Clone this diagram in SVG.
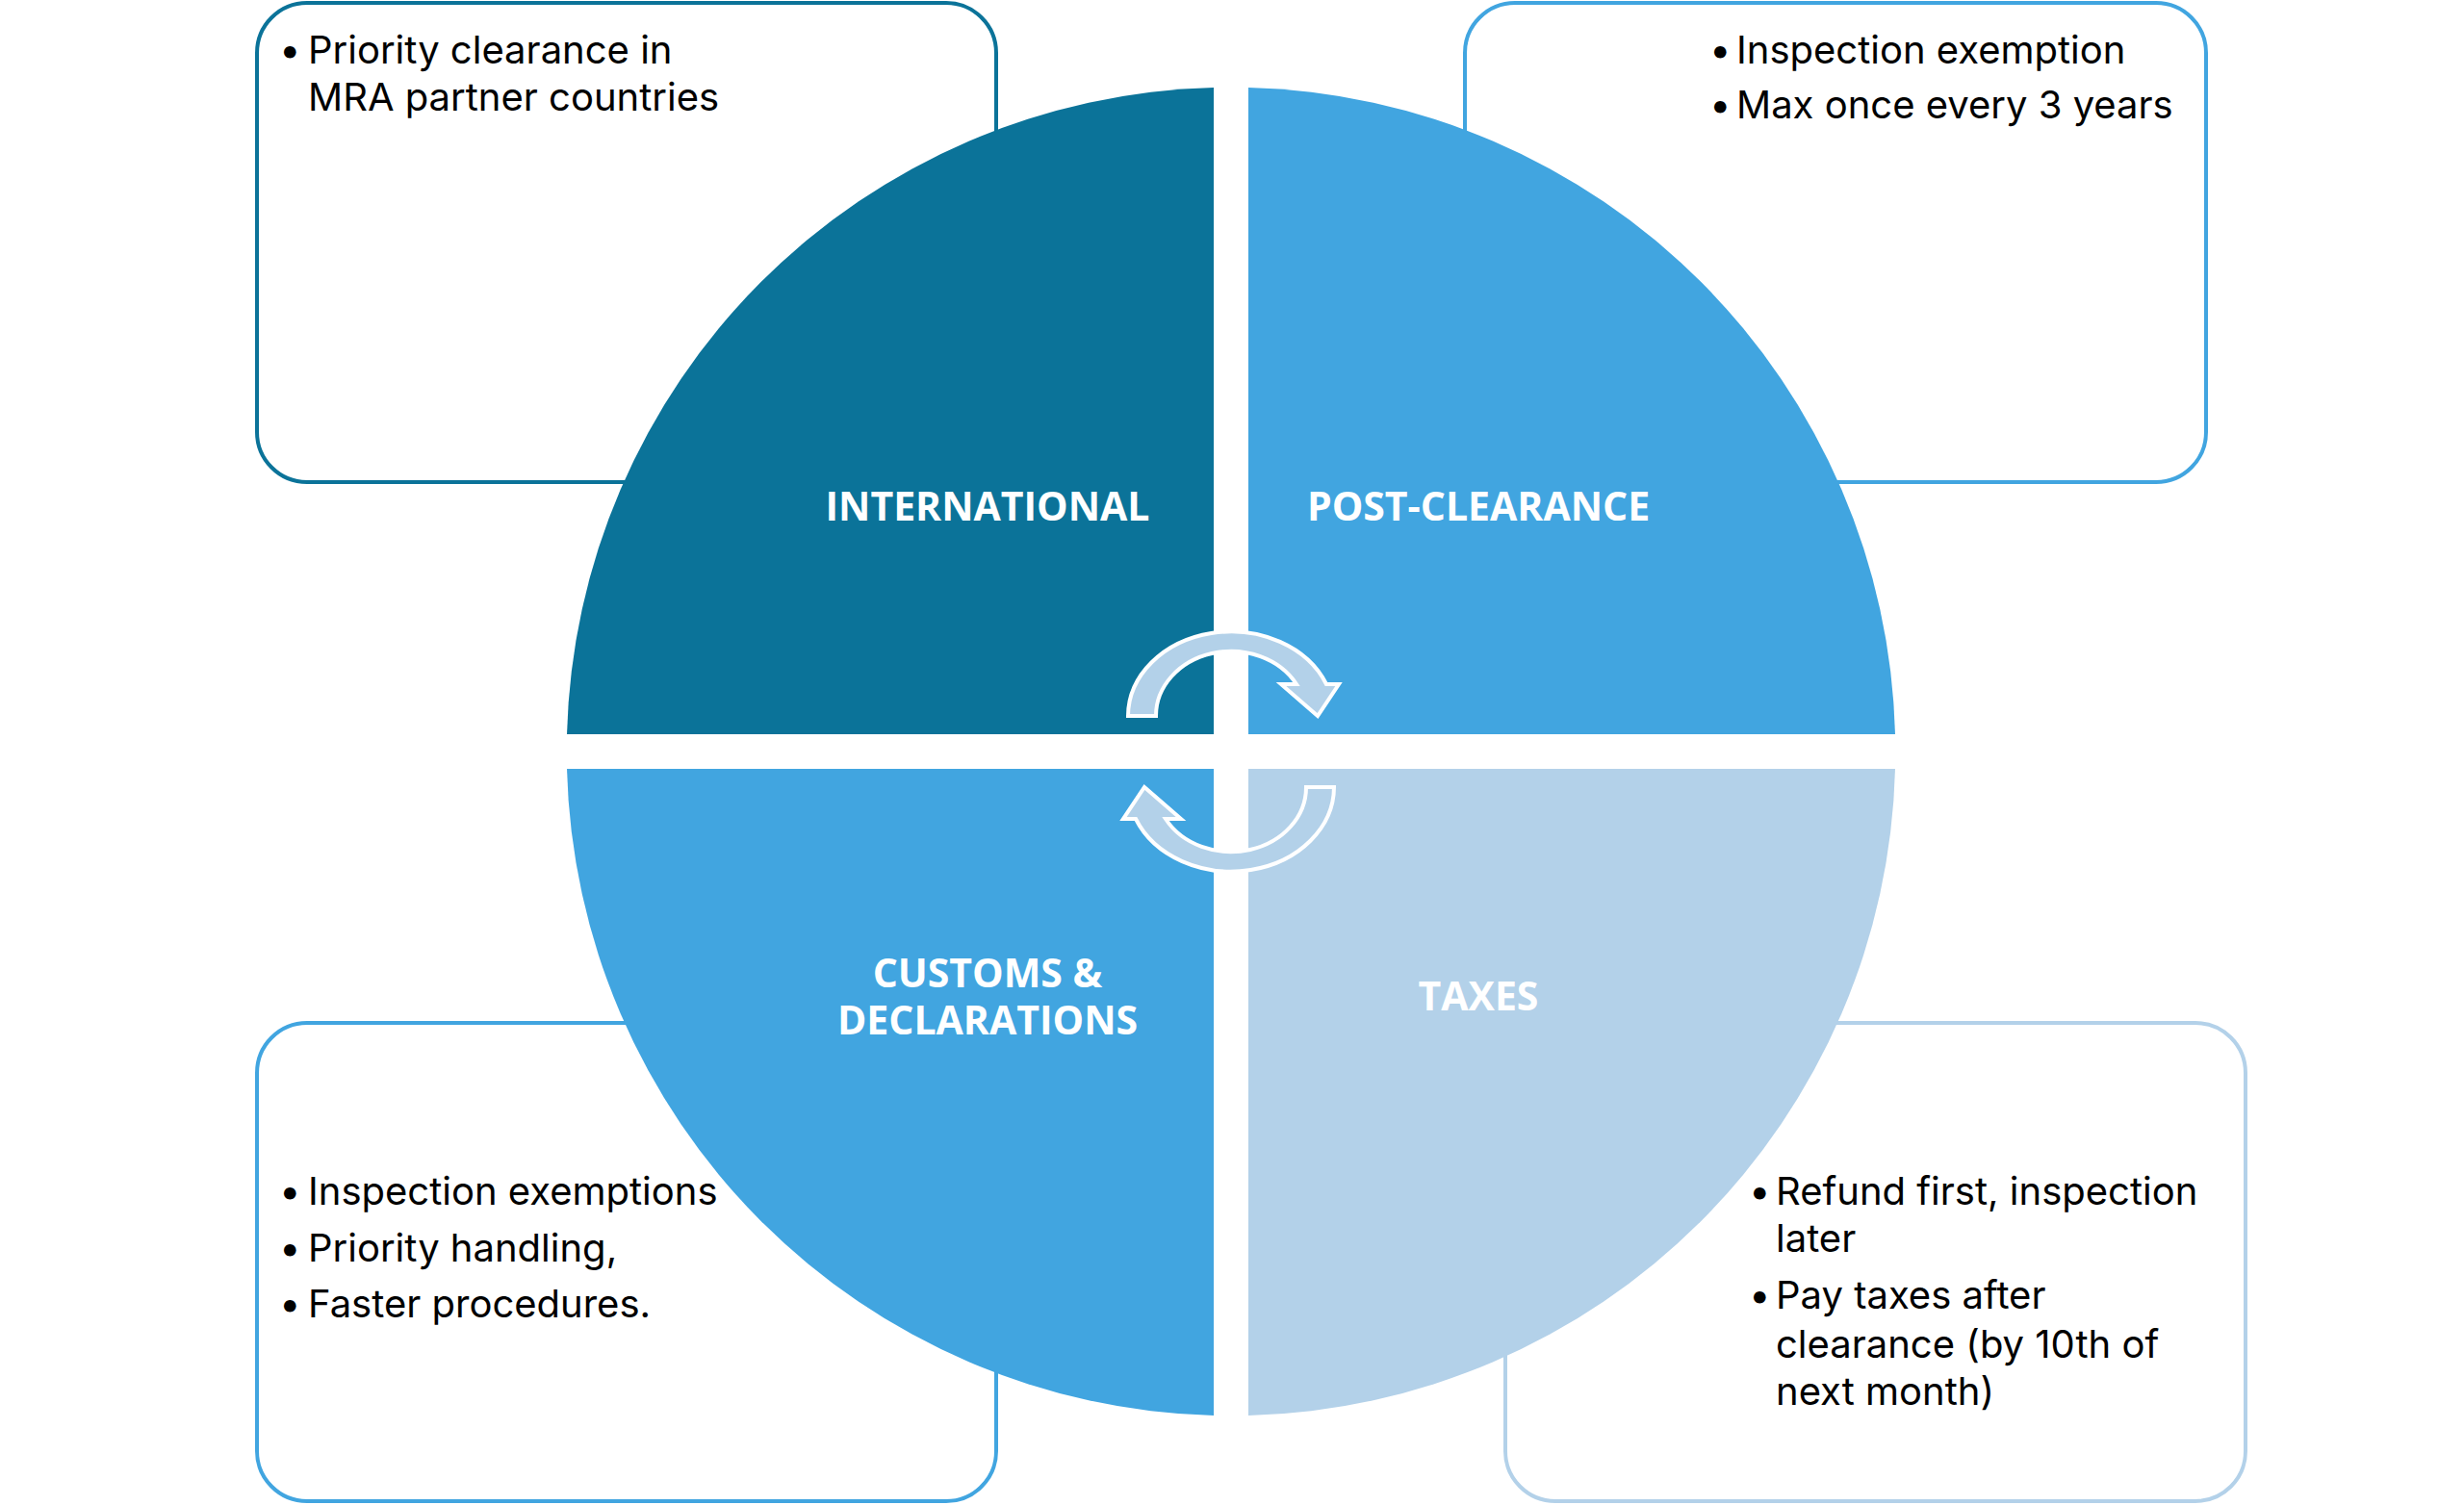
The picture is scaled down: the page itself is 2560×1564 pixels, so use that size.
<svg xmlns="http://www.w3.org/2000/svg" width="2560" height="1564" viewBox="0 0 2560 1564">
<style>
.box{fill:#fff;stroke-width:4}
.t{font-family:Inter,"Open Sans",sans-serif;font-size:40px;fill:#000}
.l{font-family:"Open Sans",Inter,sans-serif;font-weight:bold;font-size:41px;fill:#fff;text-anchor:middle}
.arr{fill:#B3D1E9;stroke:#fff;stroke-width:4}
</style>
<rect width="2560" height="1564" fill="#fff"/>
<g id="box-tl"><rect class="box" x="267" y="3" width="768" height="498" rx="52" stroke="#0B7399"/>
<text class="t" x="290" y="66">•</text><text class="t" x="320" y="66">Priority clearance in</text><text class="t" x="320" y="115">MRA partner countries</text></g>
<g id="box-tr"><rect class="box" x="1522" y="3" width="770" height="498" rx="52" stroke="#41A5E0"/>
<text class="t" x="1776" y="66">•</text><text class="t" x="1804" y="66">Inspection exemption</text>
<text class="t" x="1776" y="123">•</text><text class="t" x="1804" y="123">Max once every 3 years</text></g>
<g id="box-bl"><rect class="box" x="267" y="1063" width="768" height="497" rx="52" stroke="#41A5E0"/>
<text class="t" x="290" y="1252">•</text><text class="t" x="320" y="1252">Inspection exemptions</text>
<text class="t" x="290" y="1311">•</text><text class="t" x="320" y="1311">Priority handling,</text>
<text class="t" x="290" y="1369">•</text><text class="t" x="320" y="1369">Faster procedures.</text></g>
<g id="box-br"><rect class="box" x="1564" y="1063" width="769" height="497" rx="52" stroke="#B3D1E9"/>
<text class="t" x="1817" y="1252">•</text><text class="t" x="1845" y="1252">Refund first, inspection</text><text class="t" x="1845" y="1301">later</text>
<text class="t" x="1817" y="1360">•</text><text class="t" x="1845" y="1360">Pay taxes after</text><text class="t" x="1845" y="1411">clearance (by 10th of</text><text class="t" x="1845" y="1460">next month)</text></g>
<g id="q-international"><path d="M1261 763V91A690 690 0 0 0 589 763Z" fill="#0B7399"/><text class="l" x="1026" y="541">INTERNATIONAL</text></g>
<g id="q-post"><path d="M1297 763V91A690 690 0 0 1 1969 763Z" fill="#41A5E0"/><text class="l" x="1536" y="541">POST-CLEARANCE</text></g>
<g id="q-customs"><path d="M1261 799V1471A690 690 0 0 1 589 799Z" fill="#41A5E0"/><text class="l" x="1026" y="1026">CUSTOMS &amp;</text><text class="l" x="1026" y="1075">DECLARATIONS</text></g>
<g id="q-taxes"><path d="M1297 799V1471A690 690 0 0 0 1969 799Z" fill="#B3D1E9"/><text class="l" x="1536" y="1050">TAXES</text></g>
<g id="connectors">
<path id="arrow-top" class="arr" d="M1172 744H1201A78 67 0 0 1 1347 711H1331L1369 744L1391 711H1378A107 88 0 0 0 1172 744Z"/>
<path id="arrow-bottom" class="arr" transform="rotate(180 1279 781)" d="M1172 744H1201A78 67 0 0 1 1347 711H1331L1369 744L1391 711H1378A107 88 0 0 0 1172 744Z"/>
</g>
</svg>
